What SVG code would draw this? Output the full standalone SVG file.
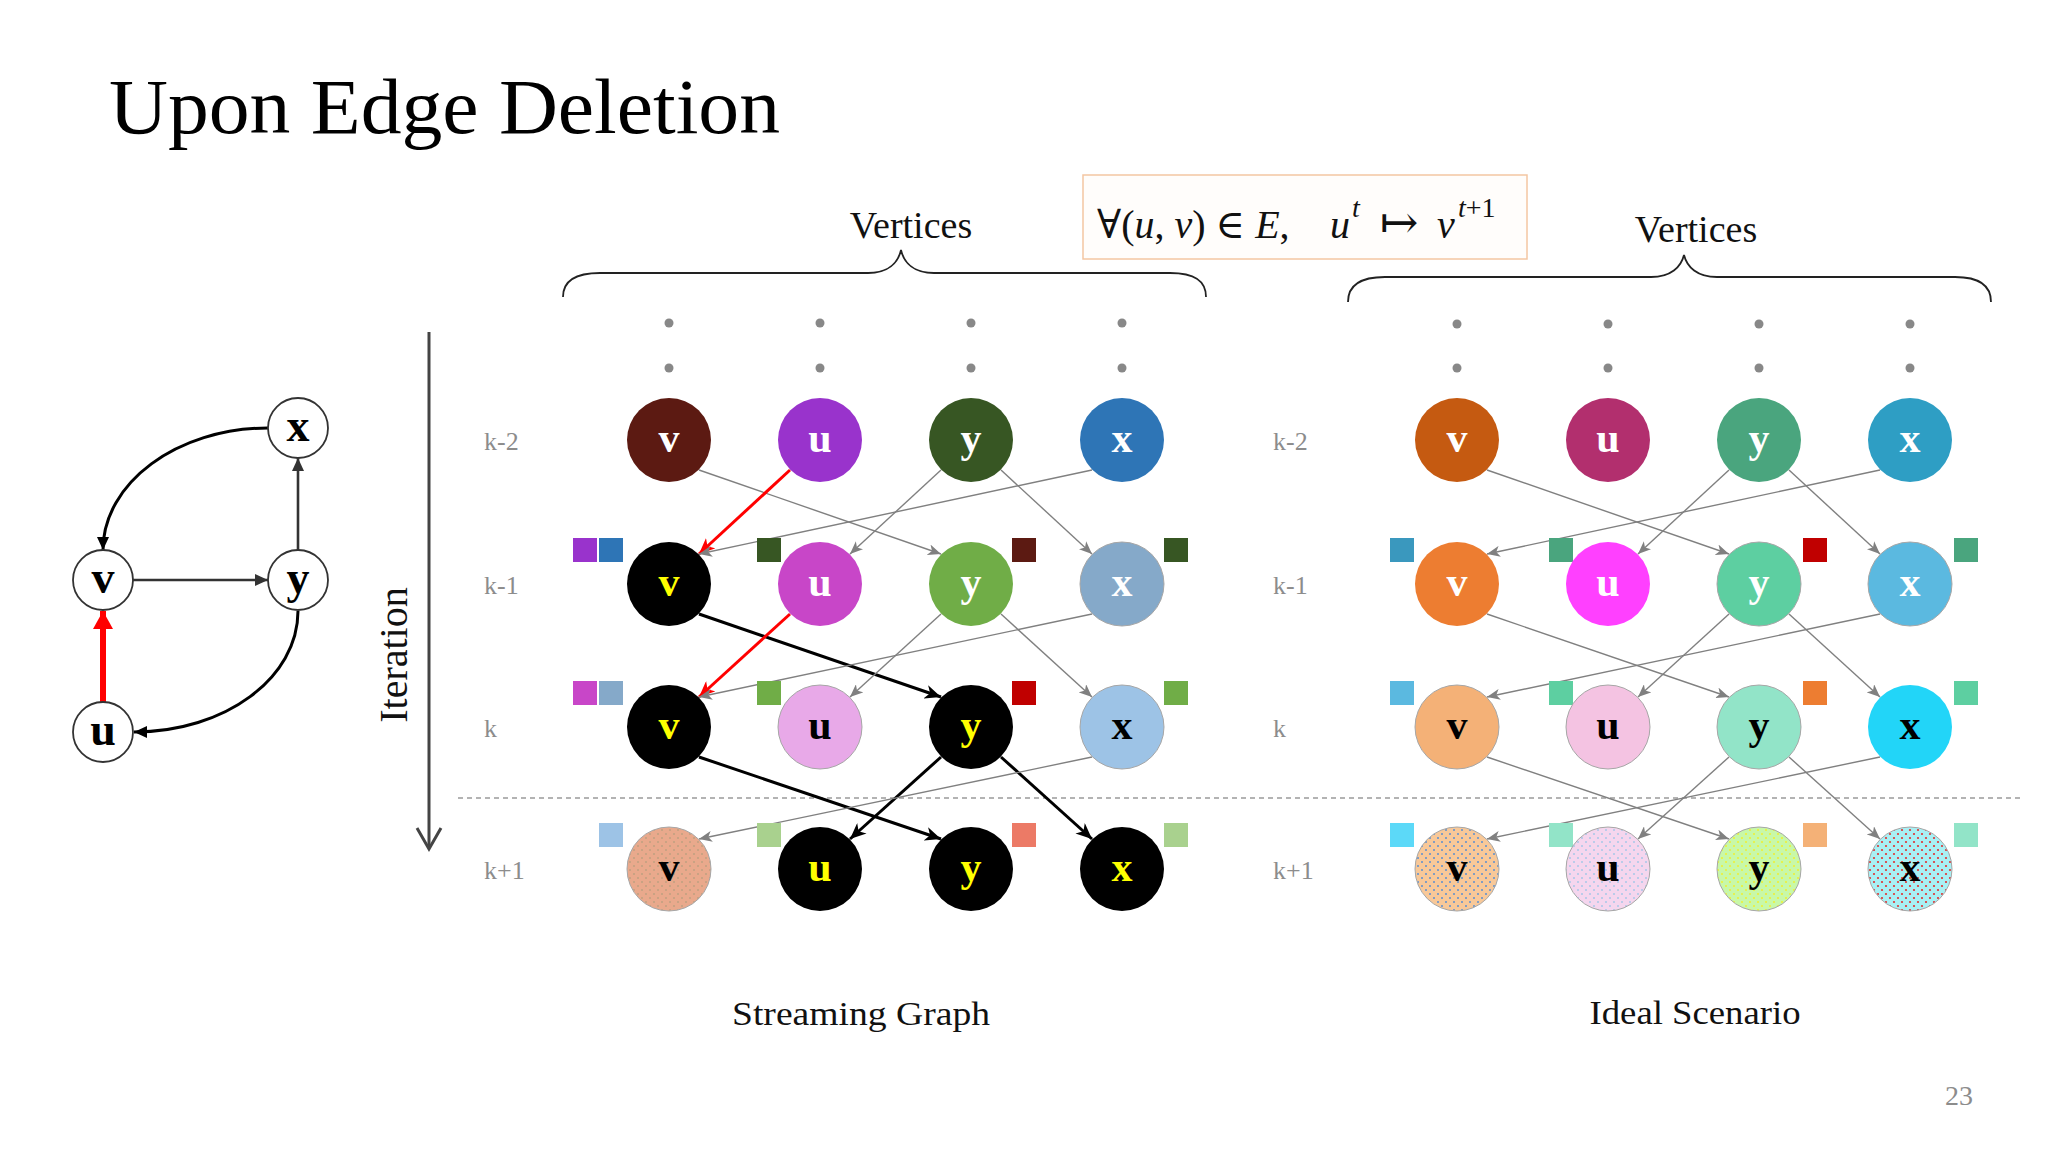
<svg xmlns="http://www.w3.org/2000/svg" width="2048" height="1152" viewBox="0 0 2048 1152">
<style>
text{font-family:"Liberation Serif","DejaVu Serif",serif}
.nl{font-size:42px;font-weight:bold;text-anchor:middle}
.w{fill:#ffffff}.yl{fill:#ffff00}.bk{fill:#000000}
.rl{font-size:26px;fill:#8c8c8c}
.pn{stroke:#a6a6a6;stroke-width:1}
.cg{stroke:#808080;stroke-width:1.4;fill:none;marker-end:url(#mg)}
.cb{stroke:#000;stroke-width:3;fill:none;marker-end:url(#mb)}
.cr{stroke:#ff0000;stroke-width:3;fill:none;marker-end:url(#mr)}
.sg{fill:#fff;stroke:#333;stroke-width:1.8}
.sl{font-size:46px;font-weight:bold;text-anchor:middle;fill:#000}
.dot{fill:#888}
.brace{fill:none;stroke:#222;stroke-width:1.8}
.cap{font-size:38px;text-anchor:middle;fill:#111}
.mi{font-style:italic}
</style>
<defs>
<marker id="mg" markerUnits="userSpaceOnUse" markerWidth="14" markerHeight="11" refX="13" refY="5.5" orient="auto"><path d="M0,0 L13,5.5 L0,11 L3.5,5.5 Z" fill="#808080"/></marker>
<marker id="mb" markerUnits="userSpaceOnUse" markerWidth="17" markerHeight="14" refX="16" refY="7" orient="auto"><path d="M0,0 L16,7 L0,14 L4.5,7 Z" fill="#000"/></marker>
<marker id="mr" markerUnits="userSpaceOnUse" markerWidth="17" markerHeight="14" refX="16" refY="7" orient="auto"><path d="M0,0 L16,7 L0,14 L4.5,7 Z" fill="#ff0000"/></marker>
<marker id="sb" markerUnits="userSpaceOnUse" markerWidth="14" markerHeight="12" refX="13" refY="6" orient="auto"><path d="M0,0 L13,6 L0,12 Z" fill="#000"/></marker>
<marker id="sd" markerUnits="userSpaceOnUse" markerWidth="14" markerHeight="12" refX="13" refY="6" orient="auto"><path d="M0,0 L13,6 L0,12 Z" fill="#333"/></marker>
<marker id="sr" markerUnits="userSpaceOnUse" markerWidth="19" markerHeight="20" refX="18" refY="10" orient="auto"><path d="M0,0 L18,10 L0,20 Z" fill="#ff0000"/></marker>
<pattern id="pL" width="8" height="8" patternUnits="userSpaceOnUse"><rect width="8" height="8" fill="#e9a98c"/><circle cx="2" cy="2" r="1" fill="#c0a080"/><circle cx="6" cy="6" r="1" fill="#c0a080"/></pattern>
<pattern id="pV" width="8" height="8" patternUnits="userSpaceOnUse"><rect width="8" height="8" fill="#f8c898"/><circle cx="2" cy="2" r="1" fill="#5b8fd0"/><circle cx="6" cy="6" r="1" fill="#5b8fd0"/></pattern>
<pattern id="pU" width="8" height="8" patternUnits="userSpaceOnUse"><rect width="8" height="8" fill="#f5d6ee"/><circle cx="2" cy="2" r="1" fill="#a8c8e8"/><circle cx="6" cy="6" r="1" fill="#a8c8e8"/></pattern>
<pattern id="pY" width="8" height="8" patternUnits="userSpaceOnUse"><rect width="8" height="8" fill="#c8f8a8"/><circle cx="2" cy="2" r="1" fill="#f0f030"/><circle cx="6" cy="6" r="1" fill="#f0f030"/></pattern>
<pattern id="pX" width="8" height="8" patternUnits="userSpaceOnUse"><rect width="8" height="8" fill="#a8f0f4"/><circle cx="2" cy="2" r="1.1" fill="#e03030"/><circle cx="6" cy="6" r="1.1" fill="#e03030"/></pattern>
</defs>
<rect width="2048" height="1152" fill="#ffffff"/>

<text id="title" x="109" y="133" font-size="78" textLength="671" lengthAdjust="spacingAndGlyphs" fill="#000">Upon Edge Deletion</text>

<!-- small graph -->
<g id="small-connectors">
<path d="M268,428 C177,428 103,483 103,550" fill="none" stroke="#000" stroke-width="3" marker-end="url(#sb)"/>
<path d="M133,580 L268,580" fill="none" stroke="#333" stroke-width="2.6" marker-end="url(#sd)"/>
<path d="M298,550 L298,458" fill="none" stroke="#333" stroke-width="2.6" marker-end="url(#sd)"/>
<path d="M298,611 C298,678 225,732 134,732" fill="none" stroke="#000" stroke-width="3" marker-end="url(#sb)"/>
<path d="M103,702 L103,611" fill="none" stroke="#ff0000" stroke-width="6" marker-end="url(#sr)"/>
</g>
<g id="s-x"><circle class="sg" cx="298" cy="428" r="30"/><text class="sl" x="298" y="441">x</text></g>
<g id="s-v"><circle class="sg" cx="103" cy="580" r="30"/><text class="sl" x="103" y="593">v</text></g>
<g id="s-y"><circle class="sg" cx="298" cy="580" r="30"/><text class="sl" x="298" y="593">y</text></g>
<g id="s-u"><circle class="sg" cx="103" cy="732" r="30"/><text class="sl" x="103" y="745">u</text></g>

<!-- iteration axis -->
<g id="iteration-axis">
<line x1="429" y1="332" x2="429" y2="848" stroke="#444" stroke-width="3"/>
<path d="M417,828 L429,849 L441,828" fill="none" stroke="#444" stroke-width="3"/>
<text transform="translate(407,655) rotate(-90)" font-size="40" text-anchor="middle" fill="#111">Iteration</text>
</g>

<!-- dashed separator -->
<line x1="458" y1="798" x2="2022" y2="798" stroke="#9a9a9a" stroke-width="1.5" stroke-dasharray="5,4"/>

<!-- headers -->
<text class="cap" x="911" y="238">Vertices</text>
<path class="brace" d="M563,297 C563,281 575,273 600,273 L868,273 C888,273 898,263 901,250 C904,263 914,273 934,273 L1170,273 C1195,273 1206,281 1206,297"/>
<text class="cap" x="1696" y="242">Vertices</text>
<path class="brace" d="M1348,302 C1348,286 1360,277 1385,277 L1651,277 C1671,277 1681,267 1684,255 C1687,267 1697,277 1717,277 L1955,277 C1980,277 1991,286 1991,302"/>

<g id="formula">
<rect x="1083" y="175" width="444" height="84" fill="#fffdfb" stroke="#f4c6a2" stroke-width="1.5"/>
<text y="238" font-size="40" fill="#111"><tspan x="1097">∀(</tspan><tspan class="mi">u</tspan><tspan>, </tspan><tspan class="mi">v</tspan><tspan>) ∈ </tspan><tspan class="mi">E</tspan><tspan>,</tspan><tspan x="1330" class="mi">u</tspan><tspan x="1352" class="mi" font-size="28" dy="-21">t</tspan><tspan x="1380" dy="21" font-size="46">↦</tspan><tspan x="1437" class="mi">v</tspan><tspan x="1458" class="mi" font-size="28" dy="-21">t</tspan><tspan font-size="28">+1</tspan></text>
</g>

<!-- row labels -->
<g id="row-labels">
<text class="rl" x="484" y="450">k-2</text>
<text class="rl" x="484" y="594">k-1</text>
<text class="rl" x="484" y="737">k</text>
<text class="rl" x="484" y="879">k+1</text>
<text class="rl" x="1273" y="450">k-2</text>
<text class="rl" x="1273" y="594">k-1</text>
<text class="rl" x="1273" y="737">k</text>
<text class="rl" x="1273" y="879">k+1</text>
</g>

<!-- ellipsis dots -->
<g id="dots">
<circle class="dot" cx="669" cy="323" r="4.5"/><circle class="dot" cx="820" cy="323" r="4.5"/><circle class="dot" cx="971" cy="323" r="4.5"/><circle class="dot" cx="1122" cy="323" r="4.5"/>
<circle class="dot" cx="669" cy="368" r="4.5"/><circle class="dot" cx="820" cy="368" r="4.5"/><circle class="dot" cx="971" cy="368" r="4.5"/><circle class="dot" cx="1122" cy="368" r="4.5"/>
<circle class="dot" cx="1457" cy="324" r="4.5"/><circle class="dot" cx="1608" cy="324" r="4.5"/><circle class="dot" cx="1759" cy="324" r="4.5"/><circle class="dot" cx="1910" cy="324" r="4.5"/>
<circle class="dot" cx="1457" cy="368" r="4.5"/><circle class="dot" cx="1608" cy="368" r="4.5"/><circle class="dot" cx="1759" cy="368" r="4.5"/><circle class="dot" cx="1910" cy="368" r="4.5"/>
</g>

<!-- connectors -->
<g id="connectors">
<line class="cg" x1="699" y1="470" x2="941" y2="554"/>
<line class="cr" x1="790" y1="470" x2="699" y2="554"/>
<line class="cg" x1="941" y1="470" x2="850" y2="554"/>
<line class="cg" x1="1001" y1="470" x2="1092" y2="554"/>
<line class="cg" x1="1092" y1="470" x2="699" y2="554"/>

<line class="cb" x1="699" y1="614" x2="941" y2="697"/>
<line class="cr" x1="790" y1="614" x2="699" y2="697"/>
<line class="cg" x1="941" y1="614" x2="850" y2="697"/>
<line class="cg" x1="1001" y1="614" x2="1092" y2="697"/>
<line class="cg" x1="1092" y1="614" x2="699" y2="697"/>

<line class="cb" x1="699" y1="757" x2="941" y2="839"/>
<line class="cb" x1="941" y1="757" x2="850" y2="839"/>
<line class="cb" x1="1001" y1="757" x2="1092" y2="839"/>
<line class="cg" x1="1092" y1="757" x2="699" y2="839"/>

<line class="cg" x1="1487" y1="470" x2="1729" y2="554"/>
<line class="cg" x1="1729" y1="470" x2="1638" y2="554"/>
<line class="cg" x1="1789" y1="470" x2="1880" y2="554"/>
<line class="cg" x1="1880" y1="470" x2="1487" y2="554"/>

<line class="cg" x1="1487" y1="614" x2="1729" y2="697"/>
<line class="cg" x1="1729" y1="614" x2="1638" y2="697"/>
<line class="cg" x1="1789" y1="614" x2="1880" y2="697"/>
<line class="cg" x1="1880" y1="614" x2="1487" y2="697"/>

<line class="cg" x1="1487" y1="757" x2="1729" y2="839"/>
<line class="cg" x1="1729" y1="757" x2="1638" y2="839"/>
<line class="cg" x1="1789" y1="757" x2="1880" y2="839"/>
<line class="cg" x1="1880" y1="757" x2="1487" y2="839"/>
</g>

<!-- Streaming graph nodes -->
<g id="L-k2-v"><circle cx="669" cy="440" r="42" fill="#5c1a12"/><text class="nl w" x="669" y="452">v</text></g>
<g id="L-k2-u"><circle cx="820" cy="440" r="42" fill="#9933cc"/><text class="nl w" x="820" y="452">u</text></g>
<g id="L-k2-y"><circle cx="971" cy="440" r="42" fill="#375623"/><text class="nl w" x="971" y="452">y</text></g>
<g id="L-k2-x"><circle cx="1122" cy="440" r="42" fill="#2e75b6"/><text class="nl w" x="1122" y="452">x</text></g>

<g id="L-k1-v"><rect x="573" y="538" width="24" height="24" fill="#9933cc"/><rect x="599" y="538" width="24" height="24" fill="#2e75b6"/><circle cx="669" cy="584" r="42" fill="#000"/><text class="nl yl" x="669" y="596">v</text></g>
<g id="L-k1-u"><rect x="757" y="538" width="24" height="24" fill="#375623"/><circle cx="820" cy="584" r="42" fill="#c846c8"/><text class="nl w" x="820" y="596">u</text></g>
<g id="L-k1-y"><rect x="1012" y="538" width="24" height="24" fill="#5c1a12"/><circle cx="971" cy="584" r="42" fill="#70ad47"/><text class="nl w" x="971" y="596">y</text></g>
<g id="L-k1-x"><rect x="1164" y="538" width="24" height="24" fill="#375623"/><circle class="pn" cx="1122" cy="584" r="42" fill="#85a9c9"/><text class="nl w" x="1122" y="596">x</text></g>

<g id="L-k-v"><rect x="573" y="681" width="24" height="24" fill="#c846c8"/><rect x="599" y="681" width="24" height="24" fill="#85a9c9"/><circle cx="669" cy="727" r="42" fill="#000"/><text class="nl yl" x="669" y="739">v</text></g>
<g id="L-k-u"><rect x="757" y="681" width="24" height="24" fill="#70ad47"/><circle class="pn" cx="820" cy="727" r="42" fill="#e8a9e8"/><text class="nl bk" x="820" y="739">u</text></g>
<g id="L-k-y"><rect x="1012" y="681" width="24" height="24" fill="#c00000"/><circle cx="971" cy="727" r="42" fill="#000"/><text class="nl yl" x="971" y="739">y</text></g>
<g id="L-k-x"><rect x="1164" y="681" width="24" height="24" fill="#70ad47"/><circle class="pn" cx="1122" cy="727" r="42" fill="#9dc3e6"/><text class="nl bk" x="1122" y="739">x</text></g>

<g id="L-k+1-v"><rect x="599" y="823" width="24" height="24" fill="#9dc3e6"/><circle class="pn" cx="669" cy="869" r="42" fill="url(#pL)"/><text class="nl bk" x="669" y="881">v</text></g>
<g id="L-k+1-u"><rect x="757" y="823" width="24" height="24" fill="#a9d18e"/><circle cx="820" cy="869" r="42" fill="#000"/><text class="nl yl" x="820" y="881">u</text></g>
<g id="L-k+1-y"><rect x="1012" y="823" width="24" height="24" fill="#ec7a66"/><circle cx="971" cy="869" r="42" fill="#000"/><text class="nl yl" x="971" y="881">y</text></g>
<g id="L-k+1-x"><rect x="1164" y="823" width="24" height="24" fill="#a9d18e"/><circle cx="1122" cy="869" r="42" fill="#000"/><text class="nl yl" x="1122" y="881">x</text></g>

<!-- Ideal scenario nodes -->
<g id="R-k2-v"><circle cx="1457" cy="440" r="42" fill="#c55a11"/><text class="nl w" x="1457" y="452">v</text></g>
<g id="R-k2-u"><circle cx="1608" cy="440" r="42" fill="#b22f6e"/><text class="nl w" x="1608" y="452">u</text></g>
<g id="R-k2-y"><circle cx="1759" cy="440" r="42" fill="#4aa57e"/><text class="nl w" x="1759" y="452">y</text></g>
<g id="R-k2-x"><circle cx="1910" cy="440" r="42" fill="#2e9ec4"/><text class="nl w" x="1910" y="452">x</text></g>

<g id="R-k1-v"><rect x="1390" y="538" width="24" height="24" fill="#3a98be"/><circle cx="1457" cy="584" r="42" fill="#ed7d31"/><text class="nl w" x="1457" y="596">v</text></g>
<g id="R-k1-u"><rect x="1549" y="538" width="24" height="24" fill="#4aa57e"/><circle cx="1608" cy="584" r="42" fill="#ff40ff"/><text class="nl w" x="1608" y="596">u</text></g>
<g id="R-k1-y"><rect x="1803" y="538" width="24" height="24" fill="#c00000"/><circle class="pn" cx="1759" cy="584" r="42" fill="#5dcfa1"/><text class="nl w" x="1759" y="596">y</text></g>
<g id="R-k1-x"><rect x="1954" y="538" width="24" height="24" fill="#4aa57e"/><circle class="pn" cx="1910" cy="584" r="42" fill="#5bb9e0"/><text class="nl w" x="1910" y="596">x</text></g>

<g id="R-k-v"><rect x="1390" y="681" width="24" height="24" fill="#5bb9e0"/><circle class="pn" cx="1457" cy="727" r="42" fill="#f4b177"/><text class="nl bk" x="1457" y="739">v</text></g>
<g id="R-k-u"><rect x="1549" y="681" width="24" height="24" fill="#5dcfa1"/><circle class="pn" cx="1608" cy="727" r="42" fill="#f4c3e2"/><text class="nl bk" x="1608" y="739">u</text></g>
<g id="R-k-y"><rect x="1803" y="681" width="24" height="24" fill="#ed7d31"/><circle class="pn" cx="1759" cy="727" r="42" fill="#92e4c8"/><text class="nl bk" x="1759" y="739">y</text></g>
<g id="R-k-x"><rect x="1954" y="681" width="24" height="24" fill="#5dcfa1"/><circle cx="1910" cy="727" r="42" fill="#22d5f8"/><text class="nl bk" x="1910" y="739">x</text></g>

<g id="R-k+1-v"><rect x="1390" y="823" width="24" height="24" fill="#5cd9f8"/><circle class="pn" cx="1457" cy="869" r="42" fill="url(#pV)"/><text class="nl bk" x="1457" y="881">v</text></g>
<g id="R-k+1-u"><rect x="1549" y="823" width="24" height="24" fill="#92e4c8"/><circle class="pn" cx="1608" cy="869" r="42" fill="url(#pU)"/><text class="nl bk" x="1608" y="881">u</text></g>
<g id="R-k+1-y"><rect x="1803" y="823" width="24" height="24" fill="#f4b177"/><circle class="pn" cx="1759" cy="869" r="42" fill="url(#pY)"/><text class="nl bk" x="1759" y="881">y</text></g>
<g id="R-k+1-x"><rect x="1954" y="823" width="24" height="24" fill="#92e4c8"/><circle class="pn" cx="1910" cy="869" r="42" fill="url(#pX)"/><text class="nl bk" x="1910" y="881">x</text></g>

<!-- captions -->
<text x="861" y="1025" font-size="34" text-anchor="middle" textLength="258" lengthAdjust="spacingAndGlyphs" fill="#111">Streaming Graph</text>
<text x="1695" y="1024" font-size="34" text-anchor="middle" textLength="211" lengthAdjust="spacingAndGlyphs" fill="#111">Ideal Scenario</text>
<text x="1959" y="1105" font-size="28" text-anchor="middle" fill="#8c8c8c">23</text>
</svg>
